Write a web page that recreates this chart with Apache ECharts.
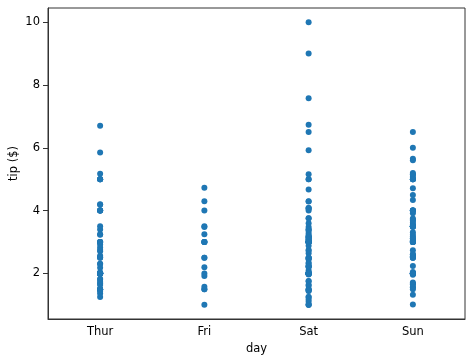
<!DOCTYPE html>
<html>
<head>
<meta charset="utf-8">
<script src="https://cdn.jsdelivr.net/npm/echarts@6/dist/echarts.min.js"></script>
<style>html,body{margin:0;padding:0;background:#fff;}#chart{width:474px;height:363px;}</style>
</head>
<body>
<div id="chart"></div>
<script>
const days = ['Thur', 'Fri', 'Sat', 'Sun'];
const tipsThur = [4.0,3.0,2.71,3.0,3.4,1.83,5.0,2.03,5.17,2.0,4.0,5.85,3.0,
  1.5,1.8,2.92,2.31,1.68,2.5,2.0,2.52,4.2,1.48,2.0,2.0,2.18,1.5,2.83,1.5,2.0,3.25,1.25,2.0,2.0,2.0,2.75,3.5,6.7,5.0,5.0,2.3,1.5,1.36,1.63,1.73,2.0,
  4.19,2.56,2.02,4.0,1.44,2.0,5.0,2.0,2.0,4.0,2.01,2.0,2.5,4.0,3.23,3.0];
const tipsFri = [3.0,3.5,1.0,4.3,3.25,4.73,4.0,1.5,3.0,1.5,2.5,3.0,2.2,3.48,1.92,3.0,1.58,2.5,2.0];
const tipsSat = [3.35,4.08,2.75,2.23,7.58,3.18,2.34,2.0,2.0,4.3,3.0,1.45,2.5,3.0,2.45,3.27,3.6,2.0,3.07,2.31,5.0,2.24,
  3.0,1.5,1.76,6.73,3.21,2.0,1.98,3.76,2.64,3.15,2.47,1.0,2.01,2.09,1.97,3.0,3.14,5.0,2.2,1.25,3.08,
  2.5,3.48,4.08,1.64,4.06,4.29,3.76,4.0,3.0,1.0,
  1.61,2.0,10.0,3.16,
  3.41,3.0,2.03,2.23,2.0,5.16,9.0,2.5,6.5,1.1,3.0,1.5,1.44,3.09,
  3.0,2.72,2.88,2.0,3.0,3.39,1.47,3.0,1.25,1.0,1.17,4.67,5.92,2.0,2.0,1.75];
const tipsSun = [1.01,1.66,3.5,3.31,3.61,4.71,2.0,3.12,1.96,3.23,1.71,5.0,1.57,3.0,3.02,3.92,1.67,3.71,3.5,
  2.54,3.06,1.32,5.6,3.0,5.0,6.0,2.05,3.0,2.5,2.6,5.2,1.56,4.34,3.51,
  4.0,2.55,4.0,3.5,5.07,
  2.5,2.0,2.74,2.0,2.0,5.14,5.0,3.75,2.61,2.0,3.5,2.5,2.0,2.0,3.0,3.48,2.24,4.5,
  5.15,3.18,4.0,3.11,2.0,2.0,4.0,3.55,3.68,5.65,3.5,6.5,3.0,5.0,3.5,2.0,3.5,4.0,1.5];
const yTicks = [2, 4, 6, 8, 10];

const perDay = [tipsThur, tipsFri, tipsSat, tipsSun];
const points = [];
perDay.forEach((arr, i) => arr.forEach(v => points.push([i, v])));

const font = 'DejaVu Sans';
const chart = echarts.init(document.getElementById('chart'));
chart.setOption({
  animation: false,
  grid: {left: 48, right: 9, top: 8, bottom: 44, containLabel: false, outerBoundsMode: 'none',
    show: true, borderColor: '#333', borderWidth: 1, backgroundColor: 'transparent'},
  xAxis: {
    type: 'category', data: days, boundaryGap: true,
    name: 'day', nameLocation: 'middle', nameGap: 24, nameMoveOverlap: false,
    nameTextStyle: {fontFamily: font, fontSize: 11.5, color: '#000'},
    axisLine: {lineStyle: {color: '#333', width: 1}},
    axisTick: {alignWithLabel: true, length: 5, lineStyle: {color: '#333'}},
    axisLabel: {fontFamily: font, fontSize: 11.5, color: '#000', margin: 7},
    splitLine: {show: false}
  },
  yAxis: {
    type: 'value', min: 0.55, max: 10.45,
    name: 'tip ($)', nameLocation: 'middle', nameGap: 28, nameMoveOverlap: false,
    nameTextStyle: {fontFamily: font, fontSize: 11.5, color: '#000'},
    axisLine: {show: true, lineStyle: {color: '#333', width: 1}},
    axisTick: {show: true, length: 5, customValues: yTicks, lineStyle: {color: '#333'}},
    axisLabel: {fontFamily: font, fontSize: 11.5, color: '#000', margin: 8, customValues: yTicks},
    splitLine: {show: false}
  },
  series: [{
    type: 'scatter', data: points, symbolSize: 6,
    itemStyle: {color: '#1f77b4', opacity: 1}
  }]
});
</script>
</body>
</html>
